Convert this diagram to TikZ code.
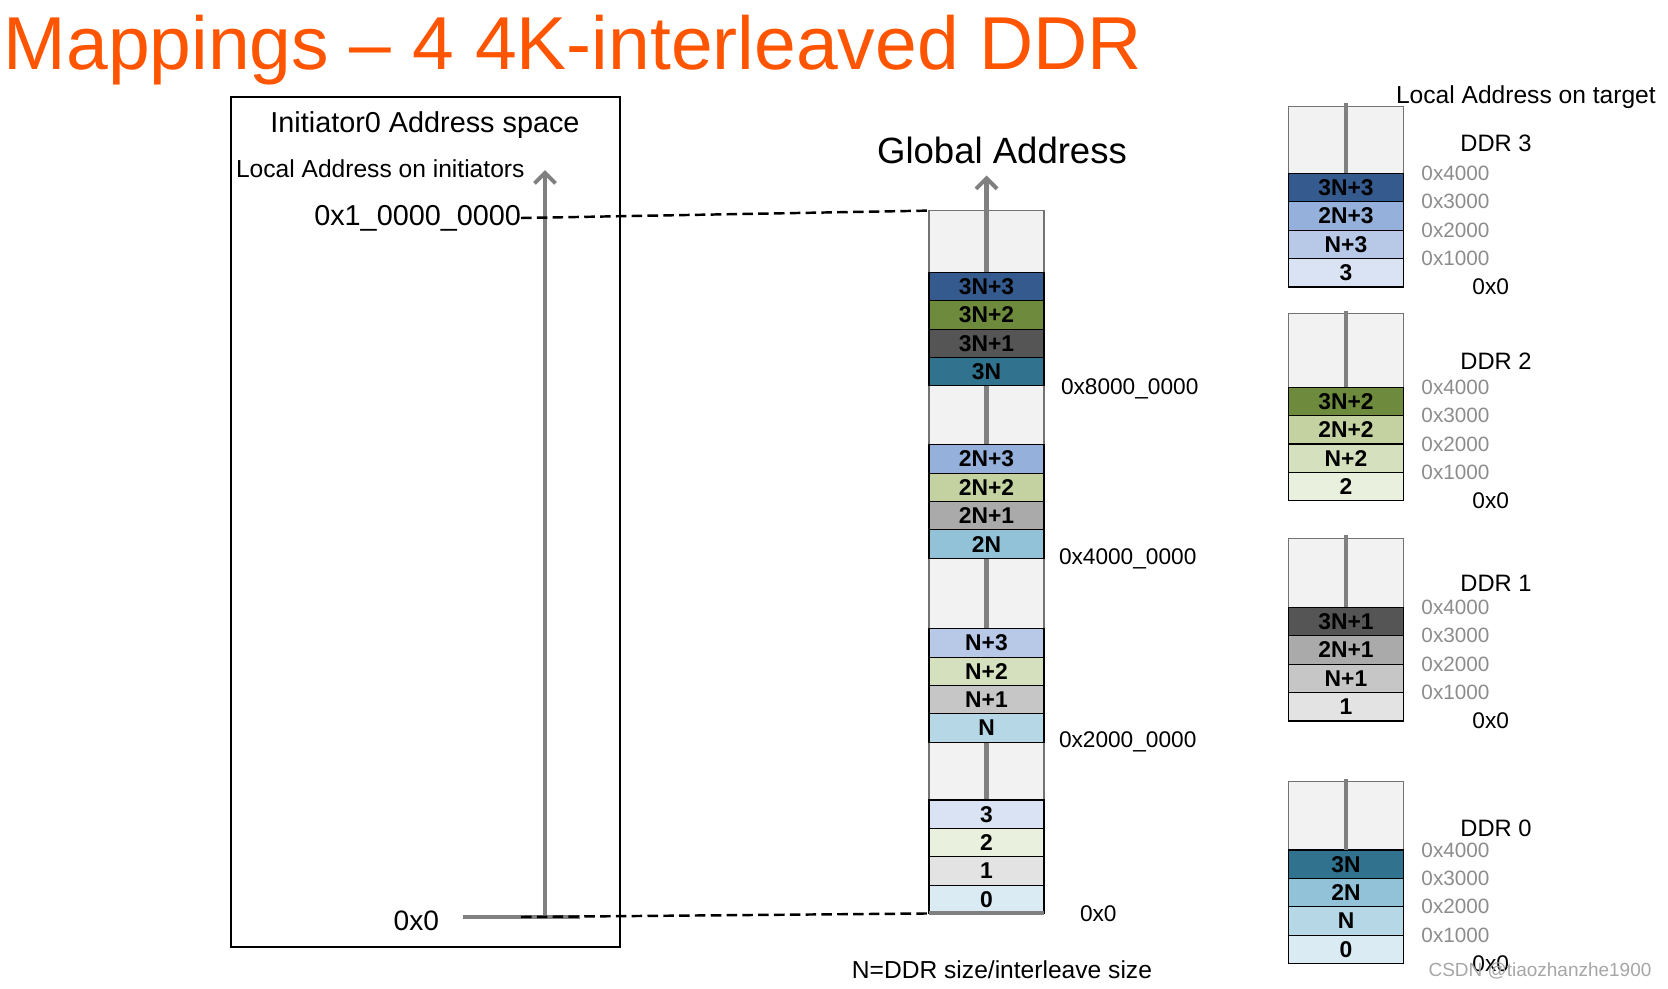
\documentclass[tikz,border=0pt]{standalone}
\usepackage{fontspec}
\setmainfont{Liberation Sans}
\usetikzlibrary{arrows.meta,positioning}
\definecolor{ttlorange}{HTML}{FF5500}
\definecolor{bgc}{HTML}{F2F2F2}
\definecolor{arrowgray}{HTML}{808080}
\definecolor{hexgray}{HTML}{8C8C8C}
\definecolor{c3a}{HTML}{355A8E}
\definecolor{c3b}{HTML}{95B0DA}
\definecolor{c3c}{HTML}{B8C9E8}
\definecolor{c3d}{HTML}{DAE3F3}
\definecolor{c2a}{HTML}{6E8B3D}
\definecolor{c2b}{HTML}{C3D2A0}
\definecolor{c2c}{HTML}{D5E0BF}
\definecolor{c2d}{HTML}{EAF0DE}
\definecolor{c1a}{HTML}{555555}
\definecolor{c1b}{HTML}{AAAAAA}
\definecolor{c1c}{HTML}{C6C6C6}
\definecolor{c1d}{HTML}{E3E3E3}
\definecolor{c0a}{HTML}{31738F}
\definecolor{c0b}{HTML}{92C2D8}
\definecolor{c0c}{HTML}{B6D7E6}
\definecolor{c0d}{HTML}{DAEBF3}

\begin{document}
\begin{tikzpicture}[
    x=0.02cm, y=-0.02cm,
    every node/.append style={inner sep=0pt, outer sep=0pt},
    blk/.style={draw=black, line width=0.6pt, minimum width=2.3cm, minimum height=0.568cm,
      anchor=north, font=\bfseries\fontsize{13}{13}\selectfont},
    colbg/.style={draw=black!55, line width=0.6pt, fill=bgc, minimum width=2.3cm, anchor=north},
    garrow/.style={draw=arrowgray, line width=2.3pt, -{Straight Barb[length=6pt,width=12pt]}},
    gline/.style={draw=arrowgray, line width=2.3pt},
    dline/.style={line width=1.4pt, dash pattern=on 6pt off 3pt},
    addr/.style={anchor=west, font=\fontsize{12.9}{13}\selectfont},
    hexg/.style={anchor=west, text=hexgray, font=\fontsize{11.8}{12}\selectfont},
    ]
    \useasboundingbox (0,0) rectangle (1668,988);

    % title
    \node[anchor=base west, text=ttlorange, font=\fontsize{42.7}{43}\selectfont] (ttl) at (4,69)
      {Mappings – 4 4K-interleaved DDR};

    % initiator side
    \node[draw, line width=1.2pt, minimum width=7.78cm, minimum height=17cm, anchor=north west]
      (ibox) at (231,97) {};
    \node[font=\fontsize{16.4}{17}\selectfont] (ititle) at (425,125) {Initiator0 Address space};
    \node[anchor=west, font=\fontsize{14}{15}\selectfont] (ilocal) at (236,169) {Local Address on initiators};
    \node[anchor=east, font=\fontsize{16.4}{17}\selectfont] (hi) at (521,218) {0x1\_0000\_0000};
    \node[anchor=east, font=\fontsize{16}{17}\selectfont] (lo) at (439,921) {0x0};
    \coordinate (lz0) at (463,917);
    \coordinate (lz1) at (580,917);
    \coordinate (lax) at (545,917);
    \coordinate (ltip) at (545,170);
    \draw[gline] (lz0) -- (lz1);
    \draw[garrow] (lax) -- (ltip);

    % global address column
    \node[font=\fontsize{20.8}{21}\selectfont] (gtitle) at (1002,150) {Global Address};
    \node[colbg, minimum height=14.06cm] (gcol) at (986.5,210.6) {};
    \coordinate (gtip) at (986.5,175.5);
    \draw[garrow] (gcol.south) -- (gtip);
    \foreach \lbl/\clr/\yy [count=\i] in {3N+3/c3a/272.3, 3N+2/c2a/300.7, 3N+1/c1a/329.1, 3N/c0a/357.5,
        2N+3/c3b/444.7, 2N+2/c2b/473.1, 2N+1/c1b/501.5, 2N/c0b/529.9,
        N+3/c3c/628.7, N+2/c2c/657.1, N+1/c1c/685.5, N/c0c/713.9,
        3/c3d/800.0, 2/c2d/828.4, 1/c1d/856.8, 0/c0d/885.2}
      \node[blk, fill=\clr] (g\i) at (986.5,\yy) {\lbl};
    \draw[gline] (gcol.south west) -- (gcol.south east);
    \node[addr] (g8k) at (1061,389) {0x8000\_0000};
    \node[addr] (g4k) at (1059,559) {0x4000\_0000};
    \node[addr] (g2k) at (1059,742) {0x2000\_0000};
    \node[addr] (g0k) at (1080,914) {0x0};
    \node[font=\fontsize{14}{15}\selectfont] (note) at (1002,970) {N=DDR size/interleave size};

    % dashed mapping lines
    \coordinate (ldash) at (521,917);
    \draw[dline] (hi.east) -- (gcol.north west);
    \draw[dline] (ldash) -- (gcol.south west);

    % target side
    \node[anchor=west, font=\fontsize{14}{15}\selectfont] (tlocal) at (1396,97) {Local Address on target};
    \foreach \d/\ct/\bt/\ly/\ca/\cb/\cc/\cd/\la/\lb/\lc/\ld in {
        3/106.4/173.4/143.6/c3a/c3b/c3c/c3d/3N+3/2N+3/N+3/3,
        2/313.8/387.2/361.7/c2a/c2b/c2c/c2d/3N+2/2N+2/N+2/2,
        1/538.3/607.4/583.0/c1a/c1b/c1c/c1d/3N+1/2N+1/N+1/1,
        0/781.9/850.0/828.7/c0a/c0b/c0c/c0d/3N/2N/N/0}
    {
      \pgfmathsetmacro{\hh}{(\bt+113.6-\ct)*0.02}
      \node[colbg, minimum height=\hh cm] (d\d) at (1346,\ct) {};
      \coordinate (d\d-top) at (1346,\ct-3);
      \node[blk, fill=\ca] (d\d-a) at (1346,\bt) {\la};
      \node[blk, fill=\cb, below=0pt of d\d-a] (d\d-b) {\lb};
      \node[blk, fill=\cc, below=0pt of d\d-b] (d\d-c) {\lc};
      \node[blk, fill=\cd, below=0pt of d\d-c] (d\d-d) {\ld};
      \draw[gline] (d\d-top) -- (d\d-a.north);
      \node[font=\fontsize{13.5}{14}\selectfont] (d\d-name) at (1496,\ly) {DDR \d};
      \node[hexg, right=0.36cm of d\d-a.north east] (d\d-x4) {0x4000};
      \node[hexg, right=0.36cm of d\d-b.north east] (d\d-x3) {0x3000};
      \node[hexg, right=0.36cm of d\d-c.north east] (d\d-x2) {0x2000};
      \node[hexg, right=0.36cm of d\d-d.north east] (d\d-x1) {0x1000};
      \node[addr, right=1.38cm of d\d-d.south east] (d\d-x0) {0x0};
    }
    \node[text=black!35, font=\fontsize{10.8}{11}\selectfont] (wm) at (1540,971) {CSDN @tiaozhanzhe1900};
  \end{tikzpicture}
\end{document}
